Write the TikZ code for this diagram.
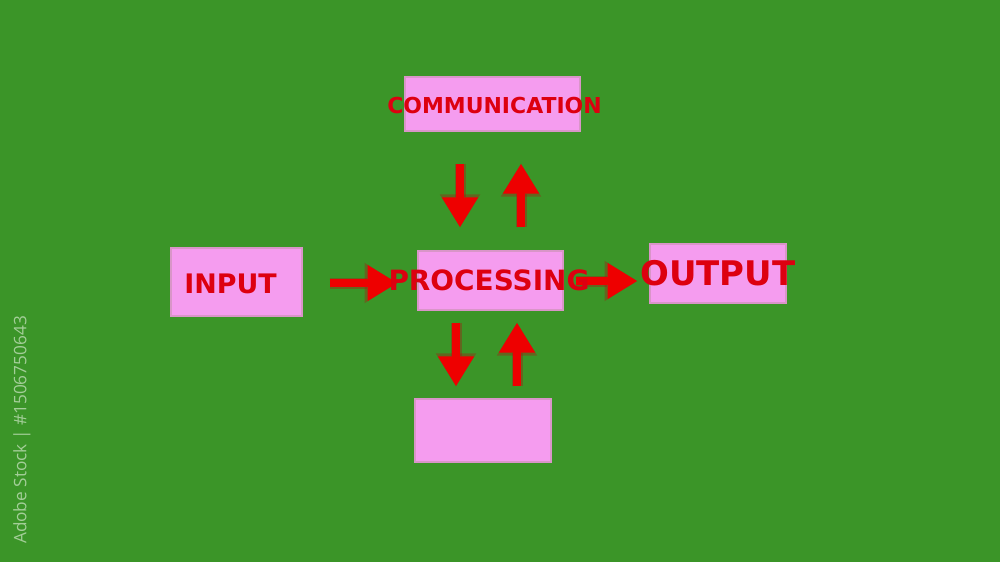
\documentclass[tikz,border=0pt]{standalone}
\usepackage{fontspec}
\usetikzlibrary{arrows.meta}
\newfontfamily\dvfont{DejaVu Sans}
\newfontfamily\osfont{Open Sans}
\definecolor{bggreen}{HTML}{3B9528}
\definecolor{boxpink}{HTML}{F59CEF}
\definecolor{boxedge}{HTML}{D995C8}
\definecolor{arrred}{HTML}{EE0000}
\definecolor{glowred}{HTML}{B01010}
\definecolor{txtred}{HTML}{DD0010}
\definecolor{wmark}{HTML}{A3CE98}
\tikzset{
  pinkbox/.style={rectangle, fill=boxpink, draw=boxedge, line width=0.6pt, inner sep=0pt},
  lbl/.style={inner sep=0pt, text=txtred, font=\dvfont\bfseries},
  arr/.style={draw=arrred, line width=0.16cm, -{Triangle[width=0.68cm,length=0.6cm]}},
  glow/.style={draw=glowred, line width=0.22cm, opacity=0.35, -{Triangle[width=0.76cm,length=0.66cm]}}
}
\begin{document}
\begin{tikzpicture}[x=0.02cm,y=-0.02cm]
\fill[bggreen] (0,0) rectangle (1000,562);
\useasboundingbox (0,0) rectangle (1000,562);
% boxes
\node[pinkbox, minimum width=3.5cm, minimum height=1.08cm] (comm) at (492.5,104) {};
\node[pinkbox, minimum width=2.62cm, minimum height=1.36cm] (input) at (236.5,282) {};
\node[pinkbox, minimum width=2.9cm, minimum height=1.18cm] (proc) at (490.5,280.5) {};
\node[pinkbox, minimum width=2.72cm, minimum height=1.18cm] (output) at (718,273.5) {};
\node[pinkbox, minimum width=2.72cm, minimum height=1.26cm] (bottom) at (483,430.5) {};
% arrows (glow then solid)
\foreach \s in {glow,arr}{
  \draw[\s, shorten <=0.64cm, shorten >=0.46cm] (comm.south -| 460,0) -- (proc.north -| 460,0);
  \draw[\s, shorten <=0.46cm, shorten >=0.64cm] (proc.north -| 521,0) -- (comm.south -| 521,0);
  \draw[\s, shorten <=0.54cm, shorten >=0.40cm] (input.east |- 0,283) -- (proc.west |- 0,283);
  \draw[\s, shorten <=0.24cm, shorten >=0.24cm] (proc.east |- 0,281) -- (output.west |- 0,281);
  \draw[\s, shorten <=0.24cm, shorten >=0.24cm] (proc.south -| 456,0) -- (bottom.north -| 456,0);
  \draw[\s, shorten <=0.24cm, shorten >=0.24cm] (bottom.north -| 517,0) -- (proc.south -| 517,0);
}
% labels
\node[lbl, font=\dvfont\bfseries\fontsize{12.5}{14}\selectfont] (commtxt) at (494.5,105) {COMMUNICATION};
\node[lbl, font=\dvfont\bfseries\fontsize{15.3}{18}\selectfont] (inputtxt) at (230.5,284) {INPUT};
\node[lbl, font=\dvfont\bfseries\fontsize{15.9}{18}\selectfont] (proctxt) at (489,280) {PROCESSING};
\node[lbl, font=\dvfont\bfseries\fontsize{19.3}{22}\selectfont] (outputtxt) at (718,273) {OUTPUT};
% side text
\node[rotate=90, inner sep=0pt, text=wmark, font=\osfont\fontsize{9.8}{12}\selectfont] (sideid) at (22,430) {Adobe Stock | \#1506750643};
\end{tikzpicture}
\end{document}
